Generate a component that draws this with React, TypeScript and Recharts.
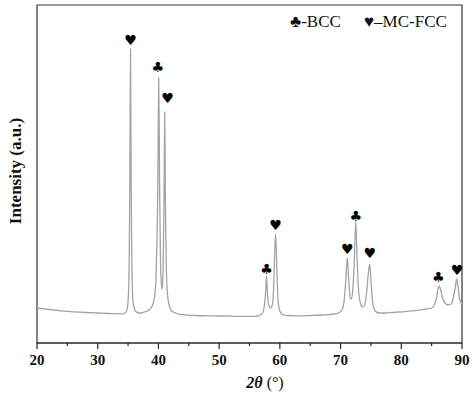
import React from "react";
import {
  ComposedChart,
  Line,
  Scatter,
  XAxis,
  YAxis,
  ReferenceArea,
} from "recharts";

const twoTheta = [
  20, 22, 24, 26, 28, 30, 32, 33, 34, 34.5, 34.8, 35.0, 35.1, 35.2, 35.3, 35.4,
  35.5, 35.6, 35.7, 35.8, 36.0, 36.3, 36.7, 37.2, 37.7, 38.2, 38.7, 39.1, 39.4,
  39.6, 39.75, 39.9, 40.05, 40.2, 40.35, 40.5, 40.6, 40.7, 40.8, 40.92, 41.04,
  41.15, 41.3, 41.5, 41.8, 42.2, 43, 44, 46, 48, 50, 52, 54, 55.5, 56.5, 57.2,
  57.45, 57.65, 57.8, 57.95, 58.15, 58.45, 58.75, 58.95, 59.1, 59.3, 59.5, 59.7,
  60.0, 60.4, 61.2, 63, 65, 67, 69, 69.8, 70.3, 70.6, 70.85, 71.1, 71.35, 71.6,
  71.8, 72.0, 72.25, 72.5, 72.75, 73.0, 73.3, 73.6, 73.95, 74.25, 74.5, 74.8,
  75.05, 75.3, 75.7, 76.3, 77, 78, 80, 82, 84, 85, 85.4, 85.8, 86.2, 86.5, 86.8,
  87.2, 87.7, 88.2, 88.6, 88.9, 89.1, 89.35, 89.6, 90,
];
const intensity = [
  350, 335, 322, 312, 305, 300, 295, 293, 292, 300, 330, 420, 560, 900, 1700,
  2940, 1700, 900, 560, 430, 350, 315, 300, 300, 310, 320, 345, 390, 480, 650,
  1000, 1550, 2650, 1500, 800, 580, 540, 600, 850, 1400, 2310, 1400, 750, 480,
  370, 320, 295, 283, 275, 272, 270, 268, 266, 266, 272, 305, 380, 500, 670,
  500, 380, 350, 380, 520, 800, 1090, 750, 430, 320, 285, 275, 272, 275, 280,
  290, 305, 340, 430, 620, 850, 620, 450, 440, 530, 800, 1210, 800, 500, 390,
  360, 380, 480, 650, 790, 580, 400, 320, 300, 300, 303, 312, 322, 338, 350,
  375, 450, 570, 530, 450, 400, 380, 390, 460, 560, 640, 560, 440, 390,
];

// phase markers above the peaks
const markerTheta = [35.4, 39.9, 41.5, 57.8, 59.3, 71.1, 72.5, 74.8, 86.1, 89.2];
const markerLevel = [3030, 2760, 2450, 740, 1180, 940, 1270, 900, 660, 730];
const markerSymbol = ["♥", "♣", "♥", "♣", "♥", "♥", "♣", "♥", "♣", "♥"];

const xTicks = [20, 25, 30, 35, 40, 45, 50, 55, 60, 65, 70, 75, 80, 85, 90];

const pattern = twoTheta.map((x, i) => ({ x, y: intensity[i] }));
const markers = markerTheta.map((x, i) => ({
  x,
  y: markerLevel[i],
  sym: markerSymbol[i],
}));

const serif = "'Liberation Serif', 'Times New Roman', serif";

const XTick = (props: any) => {
  const { x, y, payload } = props;
  const major = payload.value % 10 === 0;
  return (
    <g>
      <line x1={x} y1={y} x2={x} y2={y + (major ? 6 : 3)} stroke="#222" strokeWidth={1.2} />
      {major && (
        <text
          x={x}
          y={y + 22}
          textAnchor="middle"
          fontFamily={serif}
          fontWeight="bold"
          fontSize={15}
          fill="#111"
        >
          {payload.value}
        </text>
      )}
    </g>
  );
};

const Marker = (props: any) => {
  const { cx, cy, payload } = props;
  return (
    <text
      x={cx}
      y={cy}
      textAnchor="middle"
      dominantBaseline="central"
      fontFamily="'DejaVu Sans', sans-serif"
      fontSize={14}
      fill="#000"
    >
      {payload.sym}
    </text>
  );
};

export default function App() {
  return (
    <div style={{ position: "absolute", left: 0, top: 0, width: 474, height: 397, background: "#fff" }}>
      <ComposedChart
        width={474}
        height={397}
        margin={{ top: 5, right: 12, bottom: 0, left: 37 }}
      >
        <XAxis
          dataKey="x"
          type="number"
          domain={[20, 90]}
          ticks={xTicks}
          interval={0}
          height={54}
          tickSize={0}
          tickMargin={0}
          tickLine={false}
          tick={<XTick />}
          axisLine={{ stroke: "#222", strokeWidth: 1.2 }}
        />
        <YAxis type="number" domain={[0, 3380]} hide />
        <ReferenceArea
          x1={20}
          x2={90}
          y1={0}
          y2={3380}
          fill="none"
          stroke="#333"
          strokeWidth={1.2}
        />
        <Line
          data={pattern}
          dataKey="y"
          type="monotone"
          stroke="#a3a3a3"
          strokeWidth={1.3}
          dot={false}
          isAnimationActive={false}
        />
        <Scatter
          data={markers}
          dataKey="y"
          shape={<Marker />}
          isAnimationActive={false}
        />
        <text
          x={15}
          y={171}
          transform="rotate(-90 15 171)"
          textAnchor="middle"
          dominantBaseline="central"
          fontFamily={serif}
          fontWeight="bold"
          fontSize={17}
          fill="#111"
        >
          Intensity (a.u.)
        </text>
        <text x={265} y={388} textAnchor="middle" fontFamily={serif} fontSize={16} fill="#111">
          <tspan fontWeight="bold" fontStyle="italic">2θ</tspan> (°)
        </text>
        <text x={290} y={27} fontFamily={serif} fontSize={17} fill="#111">
          ♣-BCC
        </text>
        <text x={364} y={27} fontFamily={serif} fontSize={17} fill="#111">
          ♥–MC-FCC
        </text>
      </ComposedChart>
    </div>
  );
}
